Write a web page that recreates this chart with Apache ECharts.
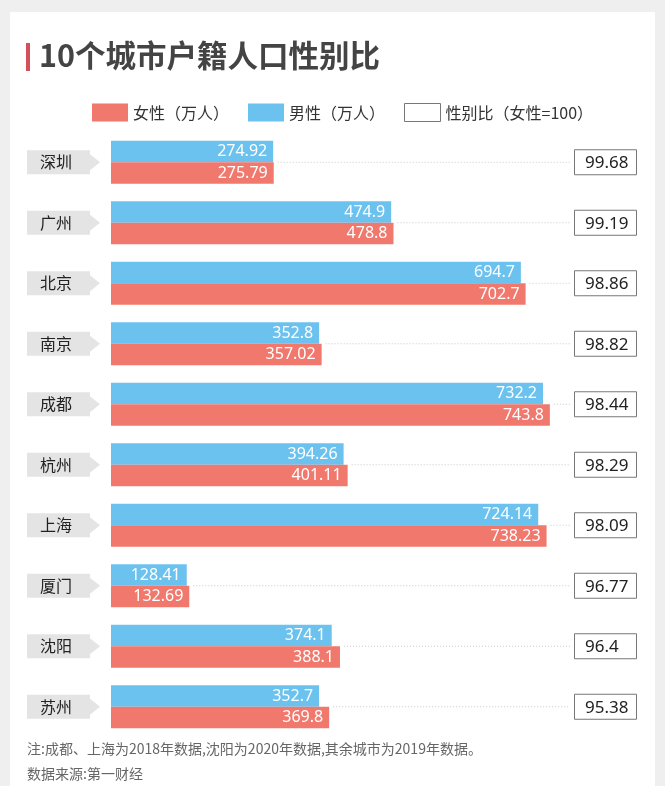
<!DOCTYPE html>
<html>
<head>
<meta charset="utf-8">
<script src="https://cdn.jsdelivr.net/npm/echarts@6/dist/echarts.min.js"></script>
<style>
  html, body { margin: 0; padding: 0; background: #efefef; }
  #chart { width: 665px; height: 786px; }
</style>
</head>
<body>
<div id="chart"></div>
<script>
// 数据
const cities = ['深圳', '广州', '北京', '南京', '成都', '杭州', '上海', '厦门', '沈阳', '苏州'];
const male = [274.92, 474.9, 694.7, 352.8, 732.2, 394.26, 724.14, 128.41, 374.1, 352.7];
const female = [275.79, 478.8, 702.7, 357.02, 743.8, 401.11, 738.23, 132.69, 388.1, 369.8];
const ratio = ['99.68', '99.19', '98.86', '98.82', '98.44', '98.29', '98.09', '96.77', '96.4', '95.38'];

const FONT = '"Noto Sans", "Noto Sans CJK SC", sans-serif';
const CJK = '"Noto Sans CJK SC", sans-serif';
const BLUE = '#6cc2ef';
const RED = '#f0786d';

const chart = echarts.init(document.getElementById('chart'));

const option = {
  backgroundColor: '#efefef',
  animation: false,
  title: {
    text: '10个城市户籍人口性别比',
    left: 39,
    top: 40,
    padding: 0,
    textStyle: { fontFamily: CJK, fontSize: 30.5, fontWeight: 'bold', color: '#444' }
  },
  graphic: [
    // 白色卡片
    { type: 'rect', z: -10, shape: { x: 10, y: 12, width: 645, height: 800 }, style: { fill: '#fff' } },
    // 标题左侧红条
    { type: 'rect', shape: { x: 26, y: 43, width: 4, height: 28 }, style: { fill: '#d4505a' } },
    {
      type: 'text', left: 27, top: 742,
      style: { text: '注:成都、上海为2018年数据,沈阳为2020年数据,其余城市为2019年数据。', font: '14px ' + CJK, fill: '#666' }
    },
    {
      type: 'text', left: 27, top: 767,
      style: { text: '数据来源:第一财经', font: '14px ' + CJK, fill: '#666' }
    }
  ],
  legend: {
    left: 87,
    top: 98,
    itemWidth: 36,
    itemHeight: 18,
    itemGap: 19,
    textStyle: { fontFamily: CJK, fontSize: 16, color: '#333' },
    data: [
      { name: '女性（万人）', icon: 'rect' },
      { name: '男性（万人）', icon: 'rect' },
      { name: '性别比（女性=100）', icon: 'rect', itemStyle: { color: '#fff', borderColor: '#777', borderWidth: 1 } }
    ]
  },
  grid: { left: 111, right: 82, top: 132, bottom: 49 },
  xAxis: { type: 'value', min: 0, max: 800, show: false },
  yAxis: {
    type: 'category',
    data: cities,
    inverse: true,
    axisLine: { show: false },
    axisTick: { show: false },
    axisLabel: { show: false },
    splitLine: { show: false }
  },
  series: [
    {
      name: '男性（万人）',
      type: 'bar',
      data: male,
      barGap: 0,
      barCategoryGap: '29%',
      itemStyle: { color: BLUE },
      label: {
        show: true, position: 'insideRight', distance: 6,
        color: '#fff', fontFamily: FONT, fontSize: 16
      }
    },
    {
      name: '女性（万人）',
      type: 'bar',
      data: female,
      barGap: 0,
      barCategoryGap: '29%',
      itemStyle: { color: RED },
      label: {
        show: true, position: 'insideRight', distance: 6,
        color: '#fff', fontFamily: FONT, fontSize: 16
      }
    },
    {
      // 城市标签（带箭头的灰框）
      name: 'cityLabel',
      type: 'custom',
      silent: true,
      clip: false,
      data: cities.map((c, i) => [0, i]),
      encode: { x: 0, y: 1 },
      renderItem: function (params, api) {
        const p = api.coord([0, api.value(1)]);
        const x = p[0], y = p[1];
        return {
          type: 'group',
          children: [
            { type: 'rect', shape: { x: x - 84, y: y - 12, width: 63, height: 24 }, style: { fill: '#e4e4e4' } },
            { type: 'polygon', shape: { points: [[x - 21, y - 8], [x - 11, y], [x - 21, y + 8]] }, style: { fill: '#e4e4e4' } },
            {
              type: 'text',
              style: { text: cities[api.value(1)], x: x - 55, y: y, align: 'center', verticalAlign: 'middle', font: '16px ' + CJK, fill: '#222' }
            }
          ]
        };
      }
    },
    {
      // 性别比：虚线 + 方框
      name: '性别比（女性=100）',
      type: 'custom',
      silent: true,
      clip: false,
      itemStyle: { color: '#fff', borderColor: '#777', borderWidth: 1 },
      data: cities.map((c, i) => [Math.max(male[i], female[i]), i]),
      encode: { x: 0, y: 1 },
      renderItem: function (params, api) {
        const idx = api.value(1);
        const p = api.coord([api.value(0), idx]);
        const right = params.coordSys.x + params.coordSys.width;
        const y = p[1];
        return {
          type: 'group',
          children: [
            {
              type: 'line',
              shape: { x1: p[0] + 4, y1: y, x2: right - 13, y2: y },
              style: { stroke: '#c8c8c8', lineWidth: 1, lineDash: [1, 2] }
            },
            {
              type: 'rect',
              shape: { x: right - 8.5, y: y - 12.5, width: 62, height: 25 },
              style: { fill: '#fff', stroke: '#777', lineWidth: 1 }
            },
            {
              type: 'text',
              style: { text: ratio[idx], x: right + 2, y: y + 1, align: 'left', verticalAlign: 'middle', font: '17px ' + FONT, fill: '#222' }
            }
          ]
        };
      }
    }
  ]
};

chart.setOption(option);
window.addEventListener('resize', () => chart.resize());
</script>
</body>
</html>
